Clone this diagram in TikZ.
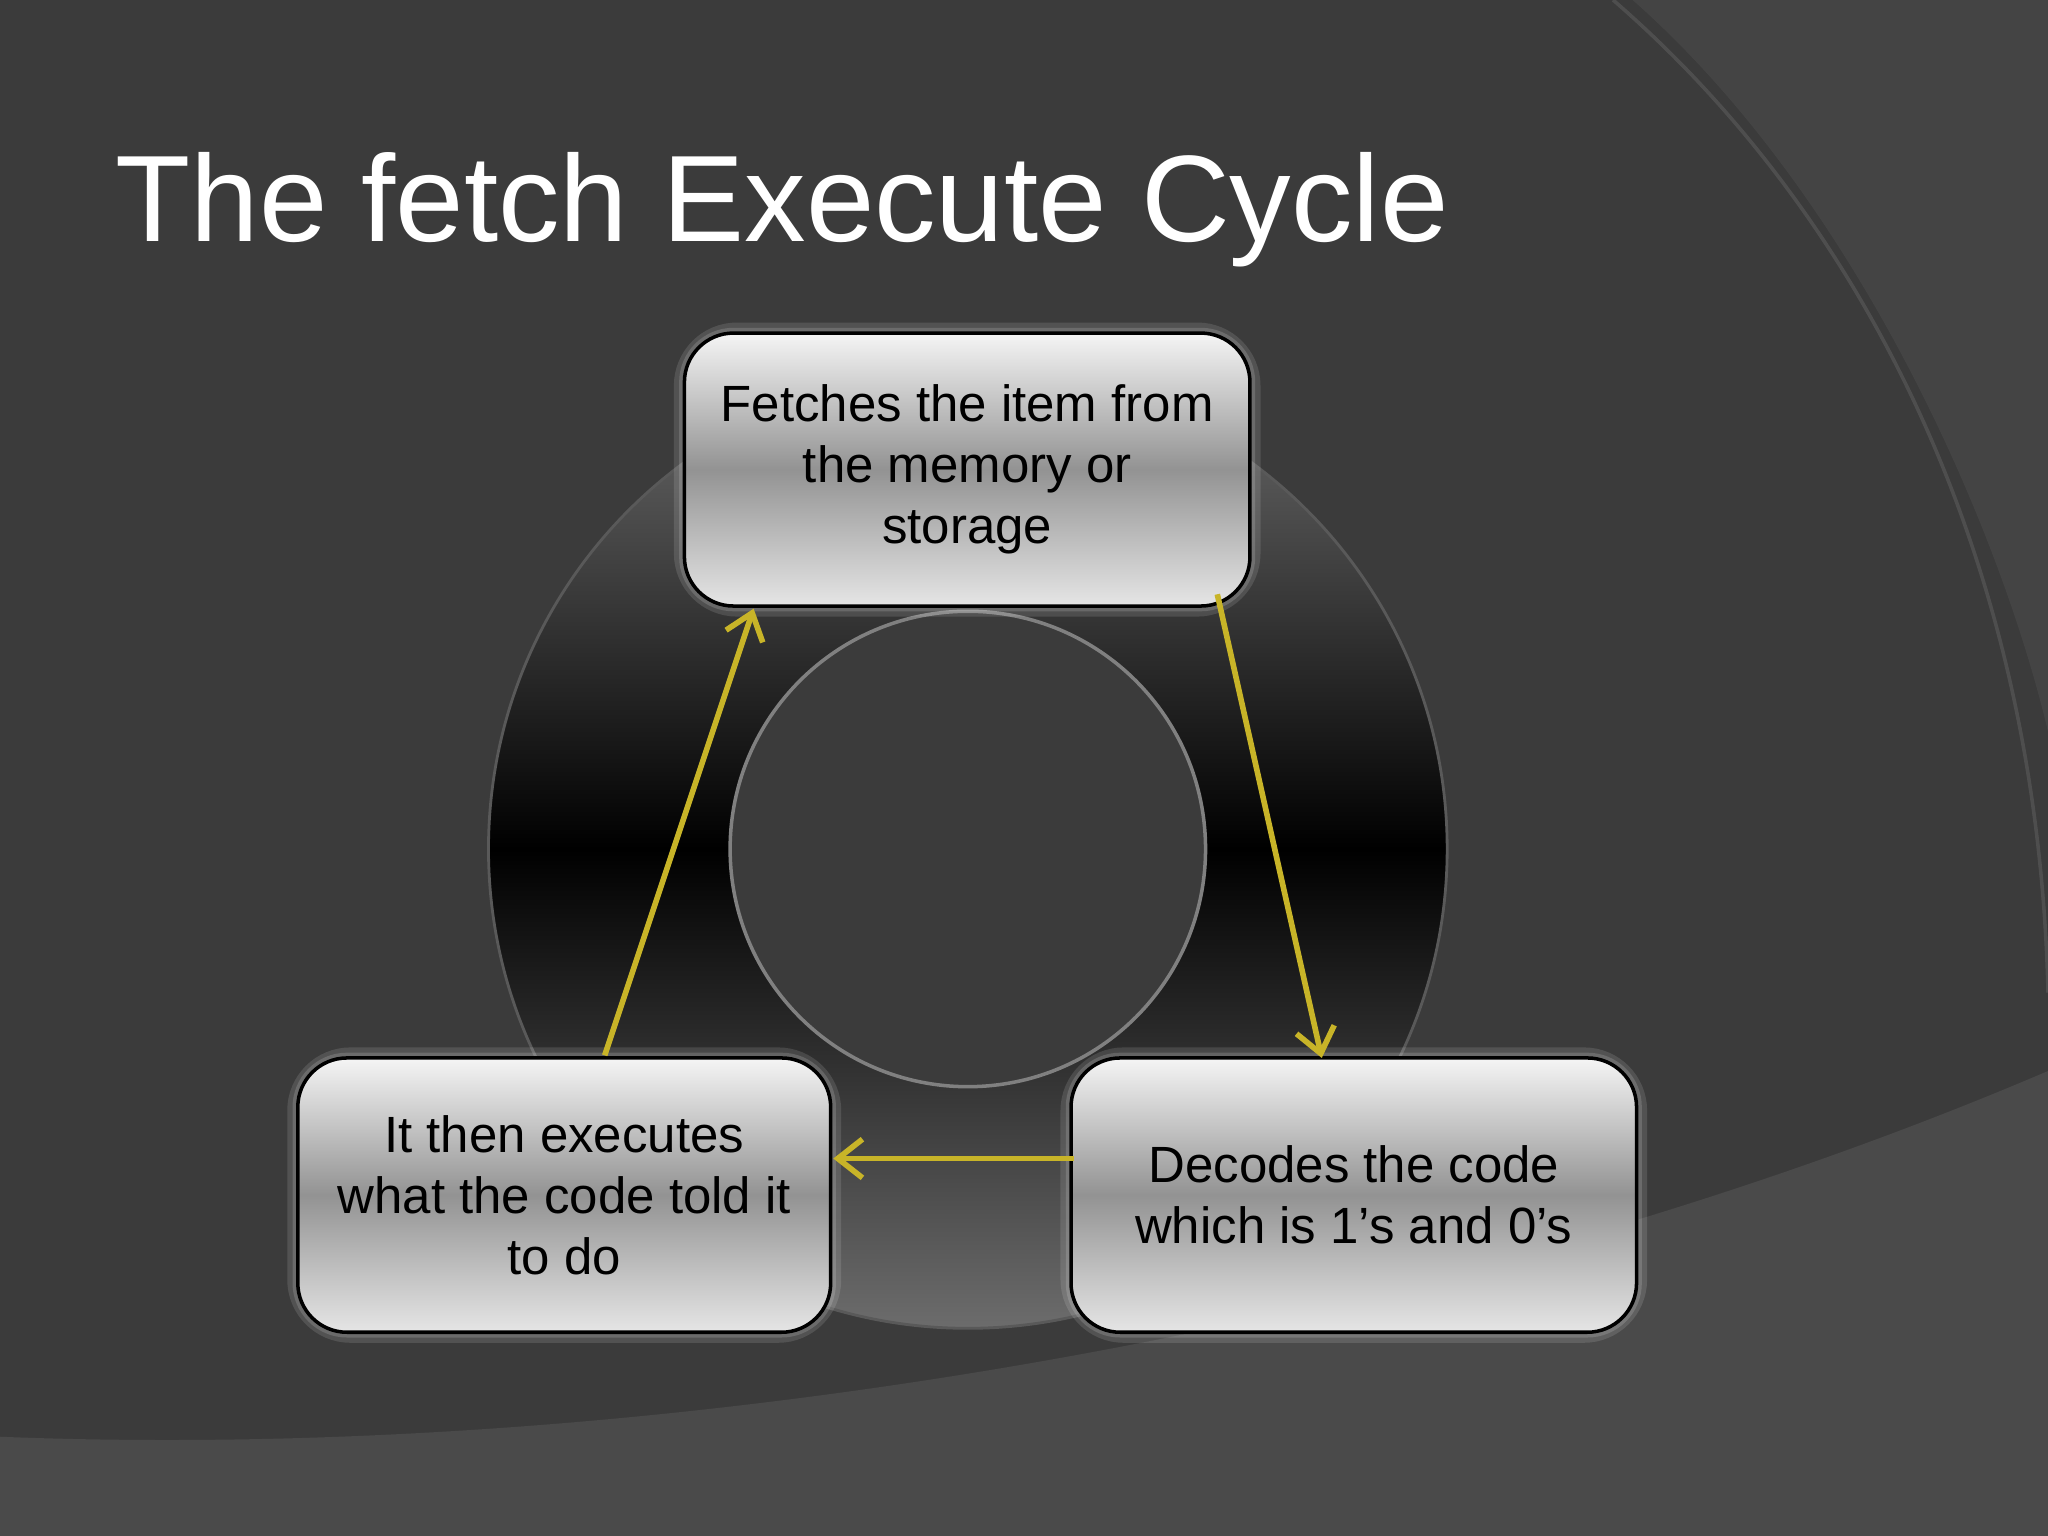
\documentclass[tikz,border=0pt]{standalone}
\usepackage{fontspec}
\setmainfont{Liberation Sans}
\usetikzlibrary{arrows.meta}
\definecolor{bg}{HTML}{3B3B3B}
\definecolor{arr}{HTML}{C8B428}
\begin{document}
\begin{tikzpicture}[x=0.013061cm,y=-0.013061cm,
  box/.style={draw=black,line width=1pt,rounded corners=14pt,top color=white!92!gray,bottom color=white!80!gray,middle color=gray!85!white,shading angle=0,align=center,font=\fontsize{14.5}{17.4}\selectfont,text=black},
  link/.style={draw=arr,line width=1.6pt,-{Straight Barb[length=7pt,width=11pt]}}]
\useasboundingbox (0,0) rectangle (1568,1176);
\fill[bg] (0,0) rectangle (1568,1176);
% background decorations
\fill[white,opacity=0.05] (1250,0) .. controls (1420,150) and (1530,400) .. (1568,560) -- (1568,0) -- cycle;
\draw[white,opacity=0.10,line width=1pt] (1235,0) .. controls (1420,160) and (1560,420) .. (1568,760);
\fill[white,opacity=0.08] (0,1100) .. controls (500,1120) and (1100,1020) .. (1568,820) -- (1568,1176) -- (0,1176) -- cycle;
% title
\node[anchor=base west,text=white,font=\fontsize{35}{40}\selectfont,inner sep=0] (title) at (88,185) {The fetch Execute Cycle};
% ring
\shade[even odd rule,top color=gray!85!black,bottom color=gray!85!black,middle color=black]
  (741,650) circle[radius=367] (741,650) circle[radius=182];
\draw[gray!70!black,line width=0.8pt] (741,650) circle[radius=367];
\draw[gray,line width=1pt] (741,650) circle[radius=182];
% glows
\foreach \a/\b/\c/\d in {524/255/957/464,228/810/636/1020,820/810/1253/1020}{
  \draw[white,opacity=0.12,line width=6pt,rounded corners=15pt] (\a,\b) rectangle (\c,\d);
  \draw[white,opacity=0.15,line width=3pt,rounded corners=14pt] (\a,\b) rectangle (\c,\d);
}
\node[box,minimum width=433*0.013061cm,minimum height=209*0.013061cm] (fetch) at (740.5,359.5) {Fetches the item from\\the memory or\\storage};
\node[box,minimum width=408*0.013061cm,minimum height=210*0.013061cm] (exec) at (432,915) {It then executes\\what the code told it\\to do};
\node[box,minimum width=433*0.013061cm,minimum height=210*0.013061cm] (dec) at (1036.5,915) {Decodes the code\\which is 1’s and 0’s};
\coordinate (f1) at (932,455); \coordinate (d1) at (1012,810);
\coordinate (d2) at (822,887); \coordinate (e2) at (638,887);
\coordinate (e3) at (463,808); \coordinate (f3) at (577,466);
\draw[link] (f1) -- (d1);
\draw[link] (d2) -- (e2);
\draw[link] (e3) -- (f3);
\end{tikzpicture}
\end{document}
